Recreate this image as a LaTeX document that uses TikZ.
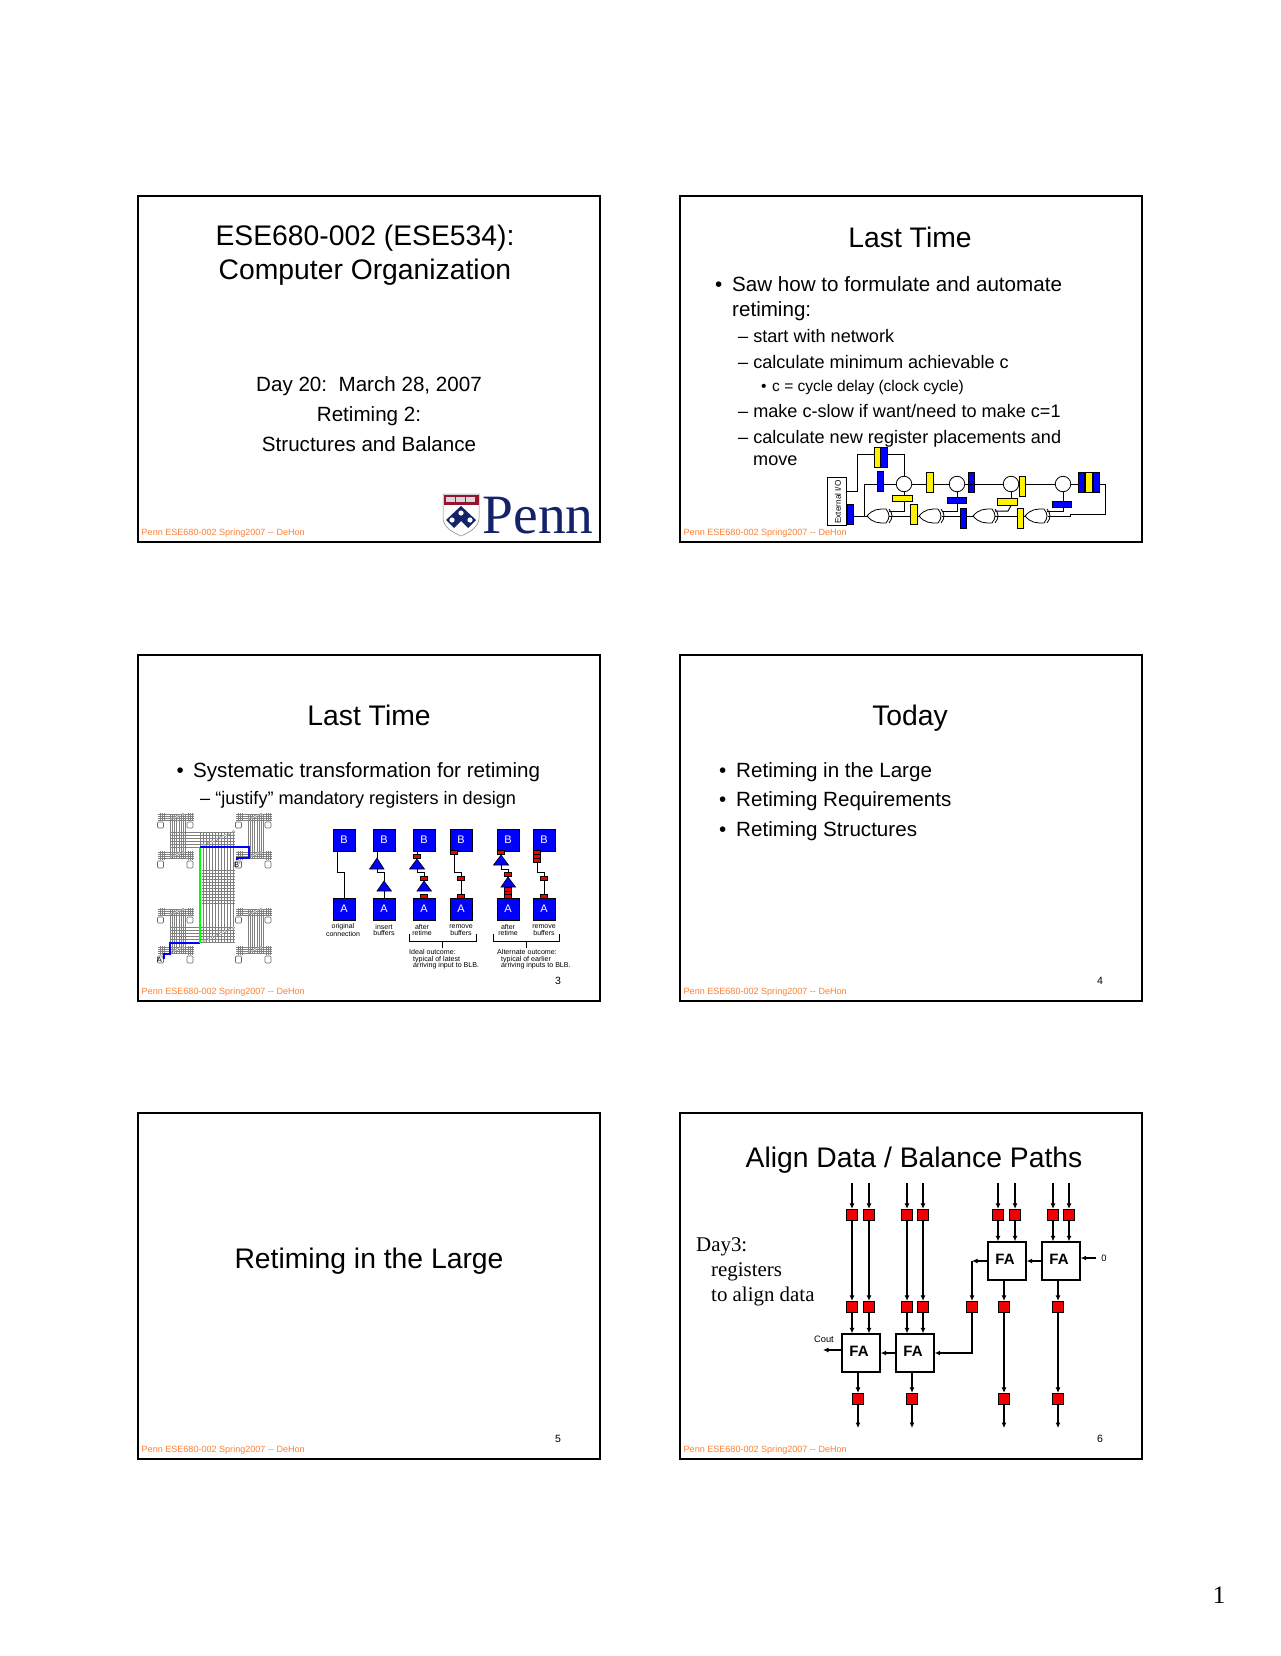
\documentclass[tikz,border=0pt]{standalone}
\usepackage{fontspec}
\setmainfont{Liberation Sans}
\newfontfamily\timesfont{Liberation Serif}
\usetikzlibrary{arrows.meta}
\definecolor{footorange}{RGB}{255,128,50}
\definecolor{regred}{RGB}{240,0,0}
\definecolor{pennblue}{RGB}{20,35,105}
\definecolor{penncrim}{RGB}{150,20,50}
\newcommand{\fs}[1]{\fontsize{#1}{#1}\selectfont}
\tikzset{
  slideframe/.style={draw,line width=2.2pt,fill=white},
  sized/.style={inner sep=0pt,font=\fs{#1},text height=#1*0.72pt,text depth=0pt},
  slidetitle/.style={sized=28.3},
  subtitle/.style={sized=20.6},
  bodyl/.style={sized=20.6,anchor=west},
  bodym/.style={sized=18.1,anchor=west},
  bodys/.style={sized=15.5,anchor=west},
  foot/.style={sized=9.05,anchor=west,text=footorange},
  pagenum/.style={sized=10.5},
  tinyc/.style={inner sep=0pt,align=center,font=\fontsize{7}{6.4}\selectfont},
  tinyl/.style={sized=7.1,anchor=west},
  daytext/.style={anchor=west,inner sep=0pt,text height=15pt,text depth=0pt,font=\timesfont\fs{20.9}},
  reg/.style={draw,line width=1.2pt,fill=regred,inner sep=0pt,minimum width=11pt,minimum height=11pt},
  fabox/.style={draw,line width=1.3pt,fill=white,inner sep=0pt,minimum width=38pt,minimum height=38pt,
    label={[font=\bfseries\fs{15},inner sep=0pt,xshift=-2pt,yshift=2pt]center:FA}},
  wire/.style={line width=1.2pt},
  wirea/.style={wire,-{Latex[length=5.5pt,width=5pt]}},
  thin wire/.style={line width=1pt},
  blk/.style={draw,line width=.8pt,fill=blue,text=white,inner sep=0pt,minimum width=22pt,minimum height=22pt,font=\fs{11}},
  sreg/.style={draw,line width=.6pt,fill=regred,inner sep=0pt,minimum width=7.5pt,minimum height=3.6pt},
  buf/.style={draw,line width=.6pt,fill=blue},
  yv/.style={draw,line width=.8pt,fill=yellow,inner sep=0pt,minimum width=6.5pt,minimum height=20pt},
  bv/.style={yv,fill=blue},
  yh/.style={draw,line width=.8pt,fill=yellow,inner sep=0pt,minimum width=19.5pt,minimum height=6.5pt},
  bh/.style={yh,fill=blue},
  cir/.style={draw,line width=.8pt,fill=white,circle,inner sep=0pt,minimum size=15.5pt},
  mesh/.style={line width=.35pt,draw=black!50},
  meshbox/.style={line width=.6pt,draw=black!60,rounded corners=1pt},
  meshthick/.style={line width=1.4pt}
}
% one logic cluster of the mesh
\newcommand{\blbcluster}[2]{
  \foreach \yy in {1,3,5,7,39,41,43,45} \draw[mesh] (#1+1,#2+\yy) -- (#1+37,#2+\yy);
  \foreach \xx in {13,15.2,17.4,19.6,21.8,24,26.2,28} \draw[mesh] (#1+\xx,#2+1) -- (#1+\xx,#2+46);
  \foreach \xx in {3,5,7,31,33,35} {
    \draw[mesh] (#1+\xx,#2) -- (#1+\xx,#2+8);
    \draw[mesh] (#1+\xx,#2+38) -- (#1+\xx,#2+47);
  }
  \foreach \xx in {0.5,30} {
    \draw[meshbox] (#1+\xx,#2+9) rectangle (#1+\xx+6,#2+15);
    \draw[meshbox] (#1+\xx,#2+48) rectangle (#1+\xx+6,#2+55);
  }
  \foreach \ii in {0,1,2,3,4} {
    \draw[mesh,fill=white] (#1+14+3*\ii,#2+6-1.2*\ii) circle [radius=1.2];
    \draw[mesh,fill=white] (#1+14+3*\ii,#2+44-1.2*\ii) circle [radius=1.2];
  }
}
% xor gate, tip on the left
\newcommand{\xorgate}[2]{
  \draw[line width=.8pt,fill=white] (#1,#2) .. controls (#1+6,#2-7) and (#1+11,#2-7) .. (#1+19,#2-7)
    .. controls (#1+23,#2-2) and (#1+23,#2+2) .. (#1+19,#2+7)
    .. controls (#1+11,#2+7) and (#1+6,#2+7) .. (#1,#2);
  \draw[line width=.8pt] (#1+22,#2-7) .. controls (#1+26,#2-2) and (#1+26,#2+2) .. (#1+22,#2+7);
}
\begin{document}
\begin{tikzpicture}[x=1pt,y=-1pt]
  \useasboundingbox (0,0) rectangle (1280,1656);

  % slide frames
  \draw[slideframe] (138,196) rectangle (600,542);
  \draw[slideframe] (680,196) rectangle (1142,542);
  \draw[slideframe] (138,655) rectangle (600,1001);
  \draw[slideframe] (680,655) rectangle (1142,1001);
  \draw[slideframe] (138,1113) rectangle (600,1459);
  \draw[slideframe] (680,1113) rectangle (1142,1459);

  % footers and page numbers
  \node[foot] (foota) at (141.5,532) {Penn ESE680-002 Spring2007 -{}- DeHon};
  \node[foot] (footb) at (683.5,532) {Penn ESE680-002 Spring2007 -{}- DeHon};
  \node[foot] (footc) at (141.5,991) {Penn ESE680-002 Spring2007 -{}- DeHon};
  \node[foot] (footd) at (683.5,991) {Penn ESE680-002 Spring2007 -{}- DeHon};
  \node[foot] (foote) at (141.5,1449) {Penn ESE680-002 Spring2007 -{}- DeHon};
  \node[foot] (footf) at (683.5,1449) {Penn ESE680-002 Spring2007 -{}- DeHon};
  \node[pagenum] (numc) at (558,981) {3};
  \node[pagenum] (numd) at (1100,981) {4};
  \node[pagenum] (nume) at (558,1439) {5};
  \node[pagenum] (numf) at (1100,1439) {6};
  \node[inner sep=0pt,text height=17pt,text depth=0pt,font=\timesfont\fs{25}] (sheetnum) at (1219,1595) {1};

  % slide 1
  \node[slidetitle] (ta) at (365,235) {ESE680-002 (ESE534):};
  \node[slidetitle] (tb) at (365,269) {Computer Organization};
  \node[subtitle] (sa) at (369,384) {Day 20:\ \ March 28, 2007};
  \node[subtitle] (sb) at (369,414) {Retiming 2:};
  \node[subtitle] (sc) at (369,444) {Structures and Balance};
  % logo
  \draw[line width=.5pt,draw=black!50,fill=white] (443,494) -- (479,494) -- (479,518)
    .. controls (479,527) and (470,532) .. (461,536) .. controls (452,532) and (443,527) .. (443,518) -- cycle;
  \fill[penncrim] (443.5,494.5) rectangle (478.5,505);
  \foreach \xx in {446,456,466} \fill[white!85!black] (\xx,497) rectangle (\xx+9,502);
  \fill[pennblue] (461,506) -- (476,520) -- (468,528) -- (461,521) -- (454,528) -- (446,520) -- cycle;
  \foreach \xx/\yy in {452/520,461/513,470/520} \fill[white] (\xx,\yy) circle [radius=2.6];
  \node[inner sep=0pt,anchor=base west,text=pennblue,font=\timesfont\fs{55.5}] (penn) at (482.5,533) {Penn};

  % slide 2
  \node[slidetitle] (lasta) at (910,237) {Last Time};
  \node[bodyl] (bua) at (715,284) {•};
  \node[bodyl] (la) at (732,284) {Saw how to formulate and automate};
  \node[bodyl] (lb) at (732,309) {retiming:};
  \node[bodym] (lc) at (738,336) {– start with network};
  \node[bodym] (ld) at (738,362) {– calculate minimum achievable c};
  \node[bodys] (bub) at (761,386) {•};
  \node[bodys] (le) at (772,386) {c = cycle delay (clock cycle)};
  \node[bodym] (lf) at (738,411) {– make c-slow if want/need to make c=1};
  \node[bodym] (lg) at (738,437) {– calculate new register placements and};
  \node[bodym] (lh) at (753,459) {move};

  % retiming graph
  \node[draw,line width=.8pt,fill=white,inner sep=0pt,minimum width=19pt,minimum height=48pt] (extio) at (836.5,501) {};
  \node[sized=8.2,rotate=90] (extlbl) at (838,502) {External I/O};
  \node[cir] (ca) at (904,484) {};
  \node[cir] (cb) at (957,484) {};
  \node[cir] (cc) at (1011,484) {};
  \node[cir] (cd) at (1063,484) {};
  \node[yv] (topy) at (877.5,457) {};
  \node[bv] (topb) at (884,457) {};
  \node[bv] (ra) at (880.5,481.5) {};
  \node[yv] (rb) at (930,482) {};
  \node[bv] (rc) at (971.5,482) {};
  \node[yv] (rd) at (1022.5,486.5) {};
  \node[bv] (re) at (1081.5,482) {};
  \node[yv] (rf) at (1089,482) {};
  \node[bv] (rg) at (1096.5,482) {};
  \node[yh] (ha) at (902.5,498.5) {};
  \node[bh] (hb) at (957,500.5) {};
  \node[yh] (hc) at (1007.5,502) {};
  \node[bh] (hd) at (1062,504.5) {};
  \node[bv] (va) at (850.5,514) {};
  \node[yv] (vb) at (914,514) {};
  \node[bv] (vc) at (963.5,518) {};
  \node[yv] (vd) at (1020.5,518) {};
  \xorgate{867}{516}
  \xorgate{919}{516}
  \xorgate{973}{516}
  \xorgate{1025}{516}
  \coordinate (xa) at (867,516);
  \coordinate (xb) at (919,516);
  \coordinate (xc) at (973,516);
  \coordinate (xd) at (1025,516);
  \coordinate (turn) at (864,484);
  \draw[thin wire] (extio.east |- 0,491) -- (857,491) -- (857,454) -- (topy.west |- 0,454);
  \draw[thin wire] (topb.east |- 0,454) -- (ca.north |- 0,454) -- (ca.north);
  \draw[thin wire] (extio.east |- va.west) -- (va.west);
  \draw[thin wire] (va.east |- xa) -- (xa);
  \draw[thin wire] (turn |- xa) -- (turn) -- (ra.west |- turn);
  \draw[thin wire] (ra.east |- ca) -- (ca);
  \draw[thin wire] (ca) -- (rb.west |- ca);
  \draw[thin wire] (rb.east |- cb) -- (cb);
  \draw[thin wire] (cb) -- (cc);
  \draw[thin wire] (cc) -- (rd.west |- cc);
  \draw[thin wire] (rd.east |- cd) -- (cd);
  \draw[thin wire] (cd) -- (re.west |- cd);
  \draw[thin wire] (rg.east |- cd) -- (1105,484) -- (1105,514) -- (1070,514) -- (1070,516) -- (1048,516);
  \draw[thin wire] (ca.south) -- (ha.north -| ca);
  \draw[thin wire] (ha.south -| ca) -- (904,511) -- (889,511);
  \draw[thin wire] (cb.south) -- (hb.north);
  \draw[thin wire] (hb.south) -- (957,511) -- (942,511);
  \draw[thin wire] (cc.south) -- (hc.north -| cc);
  \draw[thin wire] (hc.south -| cc) -- (1008,511) -- (995,511);
  \draw[thin wire] (cd.south) -- (hd.north -| cd);
  \draw[thin wire] (hd.south -| cd) -- (1063,511) -- (1047,511);
  \draw[thin wire] (xb) -- (vb.east |- xb);
  \draw[thin wire] (vb.west |- xb) -- (889,516);
  \draw[thin wire] (xc) -- (vc.east |- xc);
  \draw[thin wire] (vc.west |- xc) -- (942,516);
  \draw[thin wire] (xd) -- (vd.east |- xd);
  \draw[thin wire] (vd.west |- xd) -- (995,516);

  % slide 3
  \node[slidetitle] (lastb) at (369,715) {Last Time};
  \node[bodyl] (buc) at (176.5,770) {•};
  \node[bodyl] (ma) at (193,770) {Systematic transformation for retiming};
  \node[bodym] (mb) at (200,798) {– “justify” mandatory registers in design};

  % mesh of clusters and channels
  \blbcluster{157}{813}
  \blbcluster{235}{813}
  \blbcluster{157}{908}
  \blbcluster{235}{908}
  \foreach \yy in {832,835,...,847} \draw[mesh] (170,\yy) -- (235,\yy);
  \foreach \yy in {927,930,...,943} \draw[mesh] (170,\yy) -- (235,\yy);
  \foreach \yy in {870,873,...,904} \draw[mesh] (202,\yy) -- (235,\yy);
  \foreach \xx in {200,203,...,235} \draw[mesh] (\xx,832) -- (\xx,943);
  \foreach \ii in {0,1,...,7} {
    \draw[mesh,fill=white] (204+4.2*\ii,845-1.9*\ii) circle [radius=1.3];
    \draw[mesh,fill=white] (204+4.2*\ii,941-1.9*\ii) circle [radius=1.3];
  }
  \node[sized=7.5] (mesha) at (160,960) {A'};
  \node[sized=7.5] (meshb) at (237.5,865) {B'};
  \coordinate (pa) at (164,959);
  \coordinate (pb) at (200,943);
  \coordinate (pc) at (200,847);
  \coordinate (pd) at (237,860);
  \draw[meshthick,draw=blue] (pa) -- (164,954) -- (170,954) -- (170,943) -- (pb);
  \draw[meshthick,draw=green] (pb) -- (pc);
  \draw[meshthick,draw=blue] (pc) -- (249,847) -- (249,858) -- (237,858) -- (pd);

  % buffer chains
  \node[blk] (ba) at (344,840) {B};
  \node[blk] (bb) at (384,840) {B};
  \node[blk] (bc) at (424,840) {B};
  \node[blk] (bd) at (461,840) {B};
  \node[blk] (be) at (508,840) {B};
  \node[blk] (bf) at (544,840) {B};
  \node[blk] (aa) at (344,909) {A};
  \node[blk] (ab) at (384,909) {A};
  \node[blk] (ac) at (424,909) {A};
  \node[blk] (ad) at (461,909) {A};
  \node[blk] (ae) at (508,909) {A};
  \node[blk] (af) at (544,909) {A};
  % chain 1
  \draw[thin wire] (337,851) -- (337,872) -- (344,872) -- (aa.north);
  % chain 2
  \draw[buf] (377,858) -- (369.5,869) -- (384,869) -- cycle;
  \draw[buf] (384,881) -- (377,891) -- (391.5,891) -- cycle;
  \draw[thin wire] (377,851) -- (377,858);
  \draw[thin wire] (377,869) -- (377,872) -- (384,872) -- (384,881);
  \draw[thin wire] (384,891) -- (ab.north);
  % chain 3
  \node[sreg] (ca1) at (417,856) {};
  \node[sreg] (ca2) at (424,878) {};
  \node[sreg] (ca3) at (424,896) {};
  \draw[thin wire] (417,851) -- (ca1);
  \draw[buf] (417,859) -- (409.5,869) -- (424.5,869) -- cycle;
  \draw[buf] (424,881) -- (417,891) -- (431.5,891) -- cycle;
  \draw[thin wire] (417,869) -- (417,872) -- (424,872) -- (ca2.north);
  % chain 4
  \node[sreg] (da1) at (454,852.5) {};
  \node[sreg] (da2) at (461,878) {};
  \node[sreg] (da3) at (461,896) {};
  \draw[thin wire] (da1.south) -- (454,872) -- (461,872) -- (da2.north);
  \draw[thin wire] (da2.south) -- (da3.north);
  % chain 5
  \node[sreg] (ea1) at (501,852.5) {};
  \node[sreg] (ea2) at (508,874) {};
  \node[sreg] (ea3) at (508,889.5) {};
  \node[sreg] (ea4) at (508,893) {};
  \node[sreg] (ea5) at (508,896.5) {};
  \draw[buf] (501,855) -- (493.5,865) -- (508.5,865) -- cycle;
  \draw[buf] (508,877) -- (501,887) -- (515.5,887) -- cycle;
  \draw[thin wire] (501,865) -- (501,869) -- (508,869) -- (ea2.north);
  % chain 6
  \node[sreg] (fa1) at (537,852.5) {};
  \node[sreg] (fa2) at (537,856.3) {};
  \node[sreg] (fa3) at (537,860) {};
  \node[sreg] (fa4) at (544,878) {};
  \node[sreg] (fa5) at (544,896) {};
  \draw[thin wire] (fa3.south) -- (537,872) -- (544,872) -- (fa4.north);
  \draw[thin wire] (fa4.south) -- (fa5.north);
  % chain labels
  \node[tinyc] (xla) at (343,930) {original\\connection};
  \node[tinyc] (xlb) at (384,930) {insert\\buffers};
  \node[tinyc] (xlc) at (422,930) {after\\retime};
  \node[tinyc] (xld) at (461,930) {remove\\buffers};
  \node[tinyc] (xle) at (508,930) {after\\retime};
  \node[tinyc] (xlf) at (544,930) {remove\\buffers};
  \draw[line width=.7pt] (409,934) -- (409,941) -- (476,941) -- (476,934);
  \draw[line width=.7pt] (442,941) -- (442,948);
  \draw[line width=.7pt] (493,934) -- (493,941) -- (559,941) -- (559,934);
  \draw[line width=.7pt] (526,941) -- (526,948);
  \node[tinyl] (ia) at (409,952) {Ideal outcome:};
  \node[tinyl] (ib) at (413,958.5) {typical of latest};
  \node[tinyl] (ic) at (413,965) {arriving input to BLB.};
  \node[tinyl] (ja) at (497,952) {Alternate outcome:};
  \node[tinyl] (jb) at (501,958.5) {typical of earlier};
  \node[tinyl] (jc) at (501,965) {arriving inputs to BLB.};

  % slide 4
  \node[slidetitle] (today) at (910,715) {Today};
  \node[bodyl] (bud) at (719,770) {•};
  \node[bodyl] (na) at (736,770) {Retiming in the Large};
  \node[bodyl] (bue) at (719,799) {•};
  \node[bodyl] (nb) at (736,799) {Retiming Requirements};
  \node[bodyl] (buf) at (719,829) {•};
  \node[bodyl] (nc) at (736,829) {Retiming Structures};

  % slide 5
  \node[slidetitle] (large) at (369,1258) {Retiming in the Large};

  % slide 6
  \node[slidetitle] (align) at (914,1157) {Align Data / Balance Paths};
  \node[daytext] (da) at (696,1244) {Day3:};
  \node[daytext] (db) at (711,1269) {registers};
  \node[daytext] (dc) at (711,1294) {to align data};

  \node[fabox] (fa) at (861,1353) {};
  \node[fabox] (fb) at (915,1353) {};
  \node[fabox] (fc) at (1007,1261) {};
  \node[fabox] (fd) at (1061,1261) {};
  \foreach \n/\x/\f in {a/852/fa,b/869/fa,c/907/fb,d/923/fb} {
    \coordinate (i\n) at (\x,1183);
    \node[reg] (t\n) at (\x,1215) {};
    \node[reg] (m\n) at (\x,1307) {};
    \draw[wirea] (i\n) -- (t\n);
    \draw[wirea] (t\n) -- (m\n);
    \draw[wirea] (m\n) -- (m\n |- \f.north);
  }
  \foreach \n/\x/\f in {e/998/fc,f/1015/fc,g/1053/fd,h/1069/fd} {
    \coordinate (i\n) at (\x,1183);
    \node[reg] (t\n) at (\x,1215) {};
    \draw[wirea] (i\n) -- (t\n);
    \draw[wirea] (t\n) -- (t\n |- \f.north);
  }
  \node[reg] (mi) at (972,1307) {};
  \node[reg] (mj) at (1004,1307) {};
  \node[reg] (mk) at (1058,1307) {};
  \node[reg] (ba1) at (858,1399) {};
  \node[reg] (ba2) at (912,1399) {};
  \node[reg] (ba3) at (1004,1399) {};
  \node[reg] (ba4) at (1058,1399) {};
  \draw[wirea] (fa.south -| ba1) -- (ba1);
  \draw[wirea] (fb.south -| ba2) -- (ba2);
  \draw[wirea] (fc.south -| mj) -- (mj);
  \draw[wirea] (fd.south -| mk) -- (mk);
  \draw[wirea] (mj) -- (ba3);
  \draw[wirea] (mk) -- (ba4);
  \draw[wirea] (ba1) -- (ba1 |- 0,1428);
  \draw[wirea] (ba2) -- (ba2 |- 0,1428);
  \draw[wirea] (ba3) -- (ba3 |- 0,1428);
  \draw[wirea] (ba4) -- (ba4 |- 0,1428);
  \draw[wirea] (fd.west) -- (fc.east |- fd.west);
  \draw[wirea] (fb.west) -- (fa.east |- fb.west);
  \draw[wirea] (fc.west) -- (fc.west -| mi);
  \draw[wirea] (fc.west -| mi) -- (mi);
  \draw[wirea] (mi) -- (mi |- fb) -- (fb.east);
  \node[sized=9.3] (zero) at (1104,1258) {0};
  \node[sized=9.3] (cout) at (824,1339) {Cout};
  \coordinate (zin) at (1096,1258);
  \coordinate (cend) at (823,1350);
  \draw[wirea] (zin) -- (zin -| fd.east);
  \draw[wirea] (cend -| fa.west) -- (cend);
\end{tikzpicture}
\end{document}
